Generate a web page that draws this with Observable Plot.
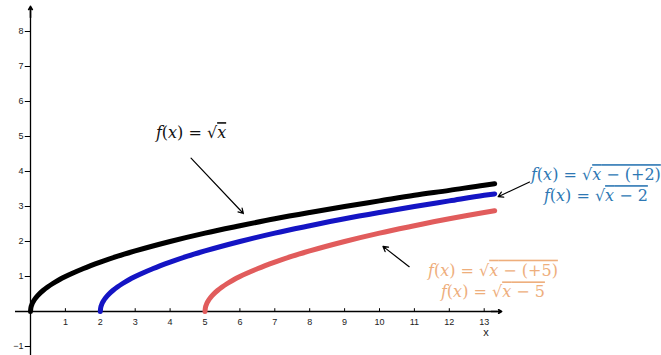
<!DOCTYPE html>
<html>
<head>
<meta charset="utf-8">
<script src="https://cdn.jsdelivr.net/npm/d3@7"></script>
<script src="https://cdn.jsdelivr.net/npm/@observablehq/plot@0.6"></script>
<style>
  html, body { margin: 0; padding: 0; background: #fff; }
  svg { display: block; }
</style>
</head>
<body>
<div id="chart"></div>
<script>
// ---- data ----
const xTicks = [1,2,3,4,5,6,7,8,9,10,11,12,13];
const yTicks = [-1,1,2,3,4,5,6,7,8];

const blackX = [0,0.01,0.04,0.09,0.16,0.25,0.36,0.49,0.64,0.81,1,1.5,2,2.5,3,4,5,6,7,8,9,10,11,12,13,13.3];
const blackY = [0,0.1,0.2,0.3,0.4,0.5,0.6,0.7,0.8,0.9,1,1.22,1.41,1.58,1.73,2,2.24,2.45,2.65,2.83,3,3.16,3.32,3.46,3.61,3.65];

const blueX = [2,2.01,2.04,2.09,2.16,2.25,2.36,2.49,2.64,2.81,3,3.5,4,4.5,5,6,7,8,9,10,11,12,13,13.3];
const blueY = [0,0.1,0.2,0.3,0.4,0.5,0.6,0.7,0.8,0.9,1,1.22,1.41,1.58,1.73,2,2.24,2.45,2.65,2.83,3,3.16,3.32,3.36];

const redX = [5,5.01,5.04,5.09,5.16,5.25,5.36,5.49,5.64,5.81,6,6.5,7,7.5,8,9,10,11,12,13,13.3];
const redY = [0,0.1,0.2,0.3,0.4,0.5,0.6,0.7,0.8,0.9,1,1.22,1.41,1.58,1.73,2,2.24,2.45,2.65,2.83,2.88];

const labelTexts = ["f(x) = \u221Ax", "f(x) = \u221Ax \u2212 (+2)", "f(x) = \u221Ax \u2212 2", "f(x) = \u221Ax \u2212 (+5)", "f(x) = \u221Ax \u2212 5"];
const labelX = [4.6, 16.2, 16.2, 13.25, 13.25];
const labelY = [5.1, 3.9, 3.3, 1.17, 0.55];
const labelColors = ["#111111", "#2e78b4", "#2e78b4", "#eeae7c", "#eeae7c"];

const arrowX1 = [4.6, 14.3, 10.85];
const arrowY1 = [4.38, 3.7, 1.28];
const arrowX2 = [6.1, 13.4, 10.1];
const arrowY2 = [2.8, 3.28, 1.86];

function showError(msg) {
  const ns = "http://www.w3.org/2000/svg";
  const svg = document.createElementNS(ns, "svg");
  svg.setAttribute("width", 661); svg.setAttribute("height", 355);
  const t = document.createElementNS(ns, "text");
  t.setAttribute("x", 10); t.setAttribute("y", 40); t.setAttribute("font-size", 12);
  t.textContent = "ERR: " + msg;
  svg.appendChild(t);
  document.getElementById("chart").appendChild(svg);
}

try {
const toPts = (xs, ys) => xs.map((x, i) => ({x, y: ys[i]}));
const curves = [
  {pts: toPts(blackX, blackY), color: "#000000"},
  {pts: toPts(blueX, blueY), color: "#1414c4"},
  {pts: toPts(redX, redY), color: "#e15c5c"}
];
const labels = labelTexts.map((t, i) => ({t, x: labelX[i], y: labelY[i], c: labelColors[i]}));
const arrows = arrowX1.map((x1, i) => ({x1, y1: arrowY1[i], x2: arrowX2[i], y2: arrowY2[i]}));

const W = 661, H = 355;
const ux = 34.9, uy = 35;
const x0 = 30, y0 = 311;
const sans = "Arial, 'Liberation Sans', sans-serif";

const plot = Plot.plot({
  width: W, height: H,
  margin: 0,
  x: {type: "linear", domain: [-x0 / ux, (W - x0) / ux], axis: null},
  y: {type: "linear", domain: [(y0 - H) / uy, y0 / uy], axis: null},
  marks: [
    Plot.ruleY([0], {x1: -0.43, x2: 13.4, stroke: "#000", strokeWidth: 1.3}),
    Plot.ruleX([0], {y1: -1.3, y2: 8.65, stroke: "#000", strokeWidth: 1.3}),
    Plot.arrow([{x1: 13.2, x2: 13.5, y1: 0, y2: 0}, {x1: 0, x2: 0, y1: 8.4, y2: 8.72}], {x1: "x1", y1: "y1", x2: "x2", y2: "y2", stroke: "#000", strokeWidth: 1.6, headLength: 6}),
    Plot.ruleX(xTicks, {x: d => d, y1: 0, y2: 0.08, stroke: "#000", strokeWidth: 1}),
    Plot.ruleY(yTicks, {y: d => d, x1: -0.15, x2: 0, stroke: "#000", strokeWidth: 1}),
    Plot.text(xTicks, {x: d => d, y: 0, dy: 11, text: d => String(d), fontSize: 9, fill: "#222", fontFamily: sans}),
    Plot.text(yTicks, {x: 0, y: d => d, dx: -7, textAnchor: "end", text: d => d < 0 ? "\u2212" + Math.abs(d) : String(d), fontSize: 9, fill: "#222", fontFamily: sans}),
    Plot.text(["x"], {x: 13.05, y: 0, dy: 21, text: d => d, fontSize: 11, fill: "#222", fontFamily: sans}),
    ...curves.map(c => Plot.line(c.pts, {x: "x", y: "y", stroke: c.color, strokeWidth: 5, curve: "monotone-x"})),
    Plot.arrow(arrows, {x1: "x1", y1: "y1", x2: "x2", y2: "y2", stroke: "#000", strokeWidth: 1.2, headLength: 7}),
    Plot.text(labels, {x: "x", y: "y", text: "t", fill: "c", fontSize: 16, fontFamily: "'DejaVu Serif', 'Liberation Serif', serif"})
  ]
});

d3.select(plot).selectAll("text").each(function() {
  const el = d3.select(this);
  const txt = el.text();
  if (txt.indexOf("f(x)") !== 0) return;
  el.text("");
  const idx = txt.indexOf("\u221A");
  const before = txt.slice(0, idx + 1);
  const after = txt.slice(idx + 1);
  const addParts = (s, overline) => {
    const re = /([a-z]+)|([^a-z]+)/g;
    let m;
    while ((m = re.exec(s))) {
      const ts = el.append("tspan").text(m[0]);
      if (m[1]) ts.attr("font-style", "italic");
      if (overline) ts.style("text-decoration", "overline");
    }
  };
  addParts(before, false);
  addParts(after, true);
});

document.getElementById("chart").appendChild(plot);
} catch (e) {
  showError(e && e.message);
}
</script>
</body>
</html>
